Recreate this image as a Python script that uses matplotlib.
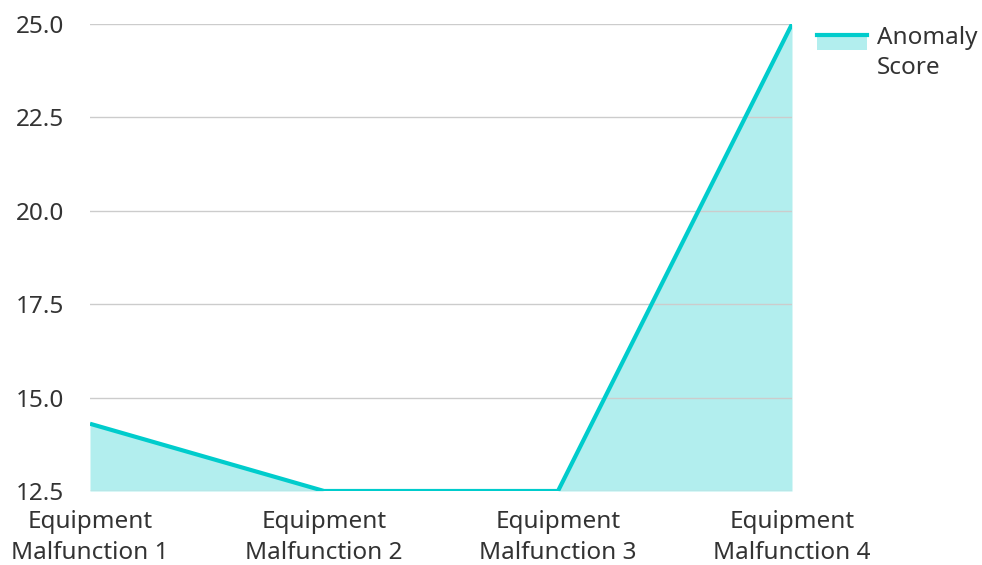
import matplotlib
matplotlib.use("Agg")
import matplotlib.pyplot as plt
from matplotlib.legend_handler import HandlerBase
from matplotlib.patches import Rectangle
from matplotlib.lines import Line2D

plt.rcParams['font.family'] = ['Noto Sans', 'DejaVu Sans']

categories = ["Equipment\nMalfunction 1", "Equipment\nMalfunction 2",
              "Equipment\nMalfunction 3", "Equipment\nMalfunction 4"]
anomaly_score = [14.3, 12.5, 12.5, 25.0]
y_ticks = [12.5, 15.0, 17.5, 20.0, 22.5, 25.0]
series_name = "Anomaly\nScore"

line_color = "#00CCCC"
fill_color = "#B2EEEE"
text_color = "#333333"
font_size = 17.5


class AreaHandler(HandlerBase):
    """Legend key: filled band with the series line along its top edge."""

    def __init__(self, lift=0.0, **kw):
        super().__init__(**kw)
        self.lift = lift

    def create_artists(self, legend, orig_handle, xdescent, ydescent,
                       width, height, fontsize, trans):
        y0 = -ydescent + self.lift
        rect = Rectangle((-xdescent, y0), width, height,
                         facecolor=fill_color, edgecolor="none", transform=trans)
        line = Line2D([-xdescent, -xdescent + width],
                      [y0 + height, y0 + height],
                      color=line_color, lw=3, transform=trans)
        return [rect, line]


fig = plt.figure(figsize=(9.82, 5.65), dpi=100)
ax = fig.add_axes([90 / 982, 1 - 491 / 565, (792 - 90) / 982, (491 - 24) / 565])

x = list(range(len(categories)))
ax.fill_between(x, y_ticks[0], anomaly_score, color=fill_color, lw=0, zorder=2)
ax.plot(x, anomaly_score, color=line_color, lw=3, zorder=3, solid_capstyle="butt")

ax.set_xlim(0, len(categories) - 1)
ax.set_ylim(y_ticks[0], y_ticks[-1])
ax.set_yticks(y_ticks)
ax.set_yticklabels([f"{v:.1f}" for v in y_ticks])
ax.set_xticks(x)
ax.set_xticklabels(categories)
ax.yaxis.grid(True, color="#CCCCCC", lw=1, zorder=2.5)
ax.set_axisbelow(False)
for s in ax.spines.values():
    s.set_visible(False)
ax.tick_params(axis="both", length=0, labelsize=font_size, labelcolor=text_color)
ax.tick_params(axis="y", pad=18.5)
ax.tick_params(axis="x", pad=14)
for lbl in ax.get_xticklabels():
    lbl.set_linespacing(1.36)

handle = Rectangle((0, 0), 1, 1)
leg = fig.legend([handle], [series_name],
                 handler_map={Rectangle: AreaHandler(lift=8)},
                 loc="upper left", bbox_to_anchor=(817 / 982, 1 - 26 / 565),
                 frameon=False, fontsize=font_size, labelcolor=text_color,
                 borderpad=0, borderaxespad=0,
                 handlelength=2.06, handleheight=0.62, handletextpad=0.41)
for t in leg.get_texts():
    t.set_linespacing(1.36)

fig.savefig("out.png", dpi=100)
